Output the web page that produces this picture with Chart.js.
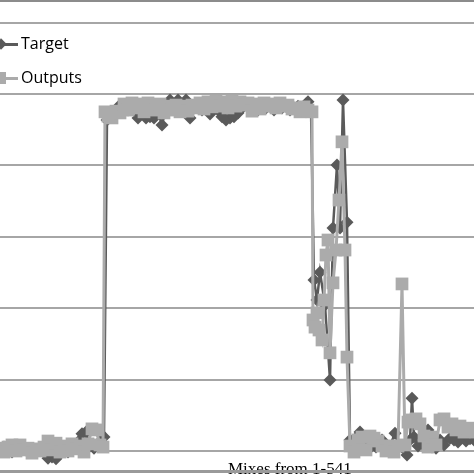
<!DOCTYPE html>
<html>
<head>
<meta charset="utf-8">
<script src="https://cdn.jsdelivr.net/npm/chart.js@4/dist/chart.umd.min.js"></script>
<style>
  html, body { margin:0; padding:0; background:#fff; }
  #wrap { position:relative; width:474px; height:474px; overflow:hidden; background:#fff; }
  #c { position:absolute; left:0; top:0; }
  .lg { position:absolute; font-family:"Open Sans", sans-serif; font-size:16px; line-height:16px; color:#000; white-space:nowrap; z-index:3; }
  .lgline { position:absolute; height:3px; z-index:3; }
  .mk { position:absolute; z-index:4; }
  #xtitle { position:absolute; left:228px; top:460px; font-family:"Liberation Serif", "Times New Roman", serif; font-size:17px; line-height:17px; color:#000; white-space:nowrap; z-index:2; }
  .frame { position:absolute; left:0; width:474px; z-index:5; }
</style>
</head>
<body>
<div id="wrap">
  <canvas id="c" width="474" height="474"></canvas>
  <div class="frame" style="top:0; height:2px; background:#8c8c8c;"></div>
  <div class="lgline" style="left:0; top:43px; width:18px; background:#5a5a5a;"></div>
  <div class="mk" style="left:-3px; top:40px; width:8px; height:8px; background:#5a5a5a; transform:rotate(45deg);"></div>
  <div class="lg" style="left:21px; top:35px;">Target</div>
  <div class="lgline" style="left:0; top:77px; width:18px; background:#ababab;"></div>
  <div class="mk" style="left:-6px; top:72px; width:12px; height:12px; background:#ababab;"></div>
  <div class="lg" style="left:21px; top:69px;">Outputs</div>
  <div id="xtitle">Mixes from 1-541</div>
  <div class="frame" style="top:470px; height:3px; background:#9a9a9a;"></div>
</div>
<script>
// Mix numbers (x) and values
const targetMix = [30,34,38,42,46,50,54,58,62,66,70,74,78,82,86,90,94,98,102,106,110,112,116,120,124,130,134,
  137,142,146,150,154,158,162,168,172,176,180,184,188,192,196,200,204,208,212,216,220,224,228,232,236,240,244,248,
  252,256,260,264,268,272,276,280,284,288,292,296,300,304,308,312,316,320,324,328,332,336,338,341,
  344,347,350,355,360,363,367,370,373,377,
  380,384,388,390,394,398,402,406,412,416,420,425,429,432,435,437,440,442,444,448,452,458,462,466,470,474,480,484,488,492,496,500,504,508];
const targetVal = [0.003,0.011,0.003,-0.003,0.008,0.003,0.011,-0.003,0.006,0.000,0.008,0.003,-0.020,-0.017,-0.022,0.003,0.006,-0.003,0.011,0.017,0.031,0.048,0.053,0.014,0.008,0.050,0.039,
  0.927,0.944,0.955,0.969,0.950,0.955,0.961,0.933,0.950,0.933,0.936,0.933,0.950,0.913,0.961,0.983,0.966,0.983,0.961,0.983,0.933,0.961,0.966,0.955,0.966,0.944,0.966,0.955,
  0.936,0.927,0.933,0.936,0.947,0.961,0.969,0.961,0.966,0.955,0.969,0.961,0.966,0.955,0.969,0.961,0.966,0.955,0.961,0.966,0.961,0.972,0.978,0.955,
  0.479,0.423,0.501,0.409,0.199,0.625,0.801,0.625,0.983,0.641,
  0.031,0.011,0.042,0.053,0.017,0.008,0.014,0.011,0.031,0.003,0.014,0.050,0.011,0.011,0.014,-0.011,0.031,0.148,0.039,0.014,0.020,0.059,0.011,0.008,0.031,0.017,0.036,0.031,0.025,0.042,0.028,0.034,0.031,0.031];

const outputMix = [30,34,38,42,46,50,54,58,62,66,70,74,78,82,86,90,94,98,102,106,110,114,118,122,126,130,133,
  135,138,142,146,150,154,158,162,166,170,174,178,182,186,190,194,198,202,206,210,214,218,222,226,230,234,238,242,
  246,250,254,258,262,266,270,274,278,282,286,290,294,298,302,306,310,314,318,322,326,330,334,338,342,
  343,345,347,349,352,354,356,358,360,363,366,369,372,375,377,
  380,384,388,392,396,400,404,408,412,416,420,424,428,432,435,438,442,446,450,454,458,462,466,470,474,478,482,486,490,494,498,502,506];
const outputVal = [0.008,-0.003,0.011,0.017,0.000,0.017,0.003,0.008,-0.006,0.006,0.000,0.011,0.028,0.003,0.022,-0.003,0.014,0.000,0.020,0.006,0.014,-0.003,0.020,0.062,0.059,0.017,0.011,
  0.950,0.938,0.933,0.952,0.947,0.972,0.955,0.975,0.961,0.972,0.950,0.975,0.966,0.955,0.972,0.947,0.966,0.955,0.969,0.950,0.966,0.952,0.969,0.961,0.975,0.958,0.978,0.964,
  0.980,0.966,0.978,0.961,0.980,0.966,0.978,0.969,0.975,0.952,0.972,0.958,0.975,0.966,0.972,0.961,0.975,0.966,0.969,0.958,0.961,0.950,0.964,0.955,0.950,
  0.367,0.347,0.387,0.339,0.311,0.423,0.549,0.591,0.275,0.471,0.563,0.703,0.866,0.563,0.263,
  0.014,-0.003,0.031,0.039,0.003,0.042,0.036,0.028,0.014,0.000,0.014,-0.003,0.014,0.468,0.017,0.081,0.087,0.090,0.076,0.042,0.011,0.039,0.017,0.087,0.090,0.067,0.076,0.059,0.070,0.053,0.064,0.059,0.053];

const yTickValues = [0, 0.2, 0.4, 0.6, 0.8, 1.0, 1.2];

const toPts = (xs, ys) => xs.map((x, i) => ({ x: x, y: ys[i] }));

new Chart(document.getElementById('c'), {
  type: 'line',
  data: {
    datasets: [
      {
        label: 'Target',
        data: toPts(targetMix, targetVal),
        borderColor: '#5a5a5a',
        backgroundColor: '#5a5a5a',
        borderWidth: 2.5,
        pointStyle: 'rectRot',
        pointRadius: 6.5,
        pointBorderWidth: 0,
        tension: 0,
        order: 1
      },
      {
        label: 'Outputs',
        data: toPts(outputMix, outputVal),
        borderColor: '#ababab',
        backgroundColor: '#ababab',
        borderWidth: 3,
        pointStyle: 'rect',
        pointRadius: 9,
        pointBorderWidth: 0,
        tension: 0,
        order: 0
      }
    ]
  },
  options: {
    responsive: false,
    animation: false,
    devicePixelRatio: 1,
    layout: { padding: 0, autoPadding: false },
    plugins: { legend: { display: false }, tooltip: { enabled: false } },
    scales: {
      x: { type: 'linear', min: 30, max: 504, display: false },
      y: {
        type: 'linear',
        min: -0.0644,
        max: 1.2633,
        afterBuildTicks: (s) => { s.ticks = yTickValues.map(v => ({ value: v })); },
        ticks: { display: false },
        grid: { color: '#a6a6a6', lineWidth: 2, drawTicks: false },
        border: { display: false }
      }
    }
  }
});
</script>
</body>
</html>
